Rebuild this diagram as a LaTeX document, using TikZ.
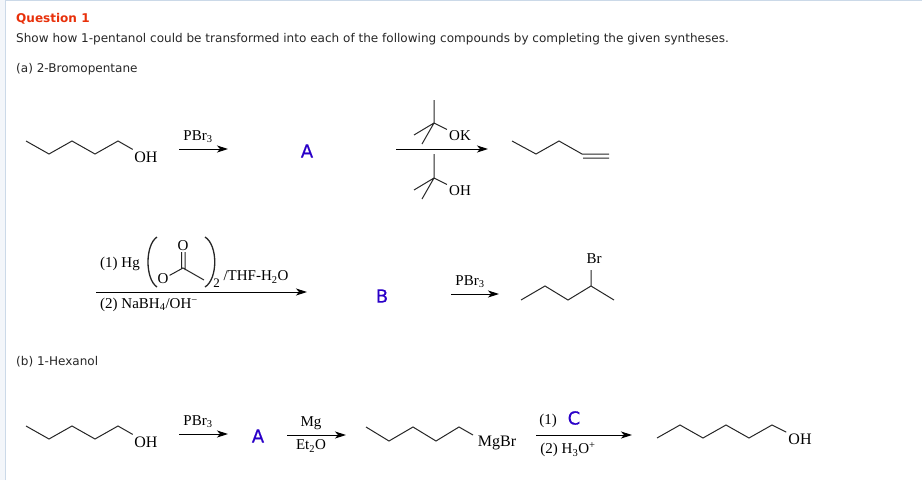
\documentclass[tikz,border=0pt]{standalone}
\usepackage{fontspec}
\setmainfont{Liberation Serif}
\newfontfamily\webfont{DejaVu Sans}
\newfontfamily\unkfont[FakeBold=0.5]{DejaVu Sans}
\usetikzlibrary{arrows.meta}
\definecolor{framecol}{HTML}{CBD9E8}
\definecolor{stripcol}{HTML}{F3F6FA}
\definecolor{titlecol}{HTML}{E8300A}
\definecolor{unkcol}{HTML}{2A00C8}
\tikzset{
  bond/.style={line width=1pt,black!85},
  rxn/.style={line width=1pt,black,-{Stealth[length=11pt,width=7pt,inset=3pt]}},
  chem/.style={inner sep=2pt,font=\fontsize{16}{17}\selectfont},
  reag/.style={inner sep=0pt,font=\fontsize{15}{16}\selectfont},
  prose/.style={inner sep=0pt,anchor=west,font=\webfont\fontsize{12.04}{14}\selectfont,text=black!85},
  unk/.style={inner sep=0pt,font=\unkfont\fontsize{18}{19}\selectfont,text=unkcol},
}
\begin{document}
\begin{tikzpicture}[x=1pt,y=-1pt]
   \useasboundingbox (0,0) rectangle (922,480);
   \fill[stripcol] (0,0) rectangle (5,480);
   \draw[framecol,line width=1pt] (5,480) -- (5,0.5) -- (922,0.5);

   % text
   \node[prose,font=\webfont\bfseries\fontsize{12.04}{14}\selectfont,text=titlecol] (title) at (16,19) {Question 1};
   \node[prose] (intro) at (16,39.5) {Show how 1-pentanol could be transformed into each of the following compounds by completing the given syntheses.};
   \node[prose] (parta) at (16,69.5) {(a) 2-Bromopentane};
   \node[prose] (partb) at (16,361.5) {(b) 1-Hexanol};

   % first row
   \coordinate (a1) at (26,141); \coordinate (a2) at (49,154); \coordinate (a3) at (72,141);
   \coordinate (a4) at (95,154); \coordinate (a5) at (118,141);
   \node[chem] (oha) at (146,157) {OH};
   \draw[bond] (a1) -- (a2) -- (a3) -- (a4) -- (a5) -- (oha);

   \coordinate (r1s) at (179,149); \coordinate (r1e) at (228,149);
   \draw[rxn] (r1s) -- (r1e);
   \node[reag] (pbra) at (198,137) {PBr\textsubscript{3}};
   \node[unk] (unka) at (307,151) {A};

   \coordinate (r2s) at (396,149); \coordinate (r2e) at (488,149);
   \draw[rxn] (r2s) -- (r2e);
   \coordinate (k1) at (434,100); \coordinate (k2) at (434,123);
   \coordinate (k3) at (414,135); \coordinate (k4) at (422,144);
   \node[reag,inner sep=2pt] (ok) at (460,136) {OK};
   \draw[bond] (k1) -- (k2) (k3) -- (k2) (k4) -- (k2) (k2) -- (ok);
   \coordinate (h1) at (434,154); \coordinate (h2) at (434,178);
   \coordinate (h3) at (414,190); \coordinate (h4) at (422,199);
   \node[reag,inner sep=2pt] (ohb) at (460,191) {OH};
   \draw[bond] (h1) -- (h2) (h3) -- (h2) (h4) -- (h2) (h2) -- (ohb);

   \coordinate (e1) at (512,141); \coordinate (e2) at (536,154); \coordinate (e3) at (559,141);
   \coordinate (e4) at (582,154); \coordinate (e5) at (609,154);
   \coordinate (e6) at (583,158); \coordinate (e7) at (609,158);
   \draw[bond] (e1) -- (e2) -- (e3) -- (e4) -- (e5) (e6) -- (e7);

   % second row
   \coordinate (r3s) at (96,292); \coordinate (r3e) at (307,292);
   \draw[rxn] (r3s) -- (r3e);
   \node[reag] (hg) at (120,264) {(1) Hg};
   \node[reag] (naoh) at (149,305) {(2) NaBH\textsubscript{4}/OH\textsuperscript{−}};
   \node[reag] (thf) at (256,277) {/THF-H\textsubscript{2}O};
   \node[reag,font=\fontsize{13}{14}\selectfont] (two) at (216.5,283) {2};
   \coordinate (pl1) at (157,237); \coordinate (pl2) at (145,245); \coordinate (pl3) at (145,279); \coordinate (pl4) at (157,287);
   \coordinate (pr1) at (205,237); \coordinate (pr2) at (218,245); \coordinate (pr3) at (218,279); \coordinate (pr4) at (205,287);
   \draw[bond,line width=1.3pt] (pl1) .. controls (pl2) and (pl3) .. (pl4);
   \draw[bond,line width=1.3pt] (pr1) .. controls (pr2) and (pr3) .. (pr4);
   \node[reag,inner sep=1pt] (oxo) at (183,246) {O};
   \node[reag,inner sep=1pt] (oes) at (163,279) {O};
   \coordinate (c1) at (183,268); \coordinate (c2) at (204,280);
   \coordinate (d1) at (181.5,252); \coordinate (d2) at (181.5,268);
   \coordinate (d3) at (185,252); \coordinate (d4) at (185,270);
   \draw[bond] (oes) -- (c1) -- (c2) (d1) -- (d2) (d3) -- (d4);

   \node[unk] (unkb) at (382,296) {B};
   \coordinate (r4s) at (451,294); \coordinate (r4e) at (499,294);
   \draw[rxn] (r4s) -- (r4e);
   \node[reag] (pbrb) at (470,282) {PBr\textsubscript{3}};
   \coordinate (b1) at (521,300); \coordinate (b2) at (545,286); \coordinate (b3) at (568,300);
   \coordinate (b4) at (591,286); \coordinate (b5) at (614,300); \coordinate (b6) at (591,270);
   \node[reag] (br) at (594,259) {Br};
   \draw[bond] (b1) -- (b2) -- (b3) -- (b4) -- (b5) (b4) -- (b6);

   % third row
   \coordinate (f1) at (26,426); \coordinate (f2) at (49,439); \coordinate (f3) at (72,426);
   \coordinate (f4) at (95,439); \coordinate (f5) at (118,426);
   \node[chem] (ohc) at (146,442) {OH};
   \draw[bond] (f1) -- (f2) -- (f3) -- (f4) -- (f5) -- (ohc);

   \coordinate (r5s) at (179,434); \coordinate (r5e) at (228,434);
   \draw[rxn] (r5s) -- (r5e);
   \node[reag] (pbrc) at (198,422) {PBr\textsubscript{3}};
   \node[unk] (unkc) at (258,436) {A};

   \coordinate (r6s) at (287,435); \coordinate (r6e) at (346,435);
   \draw[rxn] (r6s) -- (r6e);
   \node[reag] (mg) at (311,423) {Mg};
   \node[reag] (eto) at (311,446) {Et\textsubscript{2}O};

   \coordinate (g1) at (366,427); \coordinate (g2) at (389,441); \coordinate (g3) at (413,427);
   \coordinate (g4) at (436,441); \coordinate (g5) at (459,427); \coordinate (g6) at (473,435);
   \node[chem] (mgbr) at (497,443) {MgBr};
   \draw[bond] (g1) -- (g2) -- (g3) -- (g4) -- (g5) -- (g6);

   \coordinate (r7s) at (536,435); \coordinate (r7e) at (632,435);
   \draw[rxn] (r7s) -- (r7e);
   \node[reag] (one) at (548,421) {(1)};
   \node[unk] (unkd) at (574,418) {C};
   \node[reag] (hto) at (568,450) {(2) H\textsubscript{3}O\textsuperscript{+}};

   \coordinate (j1) at (657,438); \coordinate (j2) at (680,425); \coordinate (j3) at (703,438);
   \coordinate (j4) at (726,425); \coordinate (j5) at (749,438); \coordinate (j6) at (772,425);
   \node[chem] (ohd) at (800,439) {OH};
   \draw[bond] (j1) -- (j2) -- (j3) -- (j4) -- (j5) -- (j6) -- (ohd);
\end{tikzpicture}
\end{document}
